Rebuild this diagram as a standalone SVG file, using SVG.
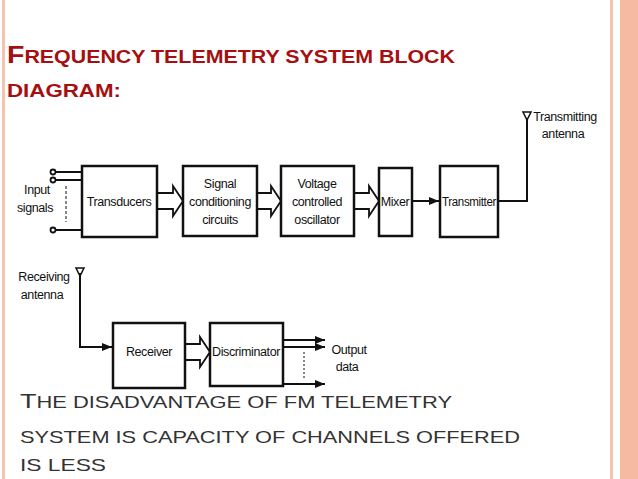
<svg xmlns="http://www.w3.org/2000/svg" width="638" height="479" viewBox="0 0 638 479">
<defs>
<style>
.b{fill:#fff;stroke:#111;stroke-width:2.5}
.l{fill:none;stroke:#111;stroke-width:2}
.t{font-family:"Liberation Sans",Arial,sans-serif;font-size:12.5px;fill:#111;text-anchor:middle;letter-spacing:-0.4px}
.h{fill:#fff;stroke:#111;stroke-width:1.8}
.tt{font-family:"Liberation Sans",Arial,sans-serif;font-weight:bold;fill:#a50f0f}
.bt{font-family:"Liberation Sans",Arial,sans-serif;fill:#333}
</style>
<marker id="a" viewBox="0 0 10 10" refX="10" refY="5" markerWidth="5" markerHeight="5" orient="auto"><path d="M0,1 L10,5 L0,9z" fill="#111"/></marker>
</defs>
<rect width="638" height="479" fill="#fff"/>
<rect x="2" y="0" width="3" height="479" fill="#f4c4b2"/>
<rect x="610" y="0" width="3" height="479" fill="#f4c4b2"/>
<rect x="620" y="0" width="18" height="479" fill="#f6b9a2"/>
<text class="tt" x="7" y="63" font-size="18" textLength="448" lengthAdjust="spacingAndGlyphs"><tspan font-size="24">F</tspan>REQUENCY TELEMETRY SYSTEM BLOCK</text>
<text class="tt" x="7" y="97" font-size="18" textLength="114" lengthAdjust="spacingAndGlyphs">DIAGRAM:</text>
<g id="connectors">
<circle cx="53" cy="172" r="2.5" class="h"/><circle cx="53" cy="180" r="2.5" class="h"/><circle cx="53" cy="230" r="2.5" class="h"/>
<path class="l" d="M56,172H82M56,180H82M56,230H82"/>
<path d="M66,186V222" stroke="#111" stroke-width="1" stroke-dasharray="3,2"/>
<path class="h" d="M157,193H173V186L183,201L173,216V209H157z"/>
<path class="h" d="M257,193H271V186L281,201L271,216V209H257z"/>
<path class="h" d="M354,193H369V186L379,201L369,216V209H354z"/>
<path class="l" d="M412,201H439" marker-end="url(#a)"/>
<path class="l" d="M498,201H527V118"/>
<path d="M523,112H531L527,120z" fill="none" stroke="#111" stroke-width="1.5"/>
<path d="M80,273V347H112" class="l" marker-end="url(#a)"/>
<path d="M76,268H84L80,276z" fill="none" stroke="#111" stroke-width="1.5"/>
<path class="h" d="M185,344H200V337L210,352L200,367V360H185z"/>
<path class="l" d="M284,340H325" marker-end="url(#a)"/>
<path class="l" d="M284,347H325" marker-end="url(#a)"/>
<path class="l" d="M284,384H325" marker-end="url(#a)"/>
<path d="M304,352V378" stroke="#111" stroke-width="1" stroke-dasharray="2,2"/>
</g>
<text class="t" x="37" y="194">Input</text><text class="t" x="35" y="212">signals</text>
<text class="t" x="565" y="121">Transmitting</text><text class="t" x="563" y="138">antenna</text>
<text class="t" x="44" y="281">Receiving</text><text class="t" x="42" y="299">antenna</text>
<text class="t" x="349" y="354">Output</text><text class="t" x="347" y="371">data</text>
<g id="transducers"><rect class="b" x="82" y="166" width="75" height="71"/><text class="t" x="119" y="206">Transducers</text></g>
<g id="signal"><rect class="b" x="183" y="166" width="74" height="70"/><text class="t" x="220" y="188">Signal</text><text class="t" x="220" y="206">conditioning</text><text class="t" x="220" y="224">circuits</text></g>
<g id="vco"><rect class="b" x="281" y="166" width="73" height="70"/><text class="t" x="317" y="188">Voltage</text><text class="t" x="317" y="206">controlled</text><text class="t" x="317" y="224">oscillator</text></g>
<g id="mixer"><rect class="b" x="379" y="168" width="33" height="68"/><text class="t" x="395" y="206">Mixer</text></g>
<g id="transmitter"><rect class="b" x="440" y="166" width="58" height="71"/><text class="t" x="469" y="206" textLength="54" lengthAdjust="spacingAndGlyphs">Transmitter</text></g>
<g id="receiver"><rect class="b" x="113" y="323" width="72" height="65"/><text class="t" x="149" y="356">Receiver</text></g>
<g id="discriminator"><rect class="b" x="210" y="323" width="73" height="63"/><text class="t" x="246" y="356" textLength="68" lengthAdjust="spacingAndGlyphs">Discriminator</text></g>
<rect x="14" y="390" width="470" height="20" fill="#fff"/>
<text class="bt" x="20" y="408" font-size="17" textLength="432" lengthAdjust="spacingAndGlyphs"><tspan font-size="21">T</tspan>HE DISADVANTAGE  OF FM TELEMETRY</text>
<text class="bt" x="20" y="443" font-size="17" textLength="500" lengthAdjust="spacingAndGlyphs">SYSTEM IS CAPACITY OF CHANNELS OFFERED</text>
<text class="bt" x="20" y="471" font-size="17" textLength="86" lengthAdjust="spacingAndGlyphs">IS LESS</text>
</svg>
